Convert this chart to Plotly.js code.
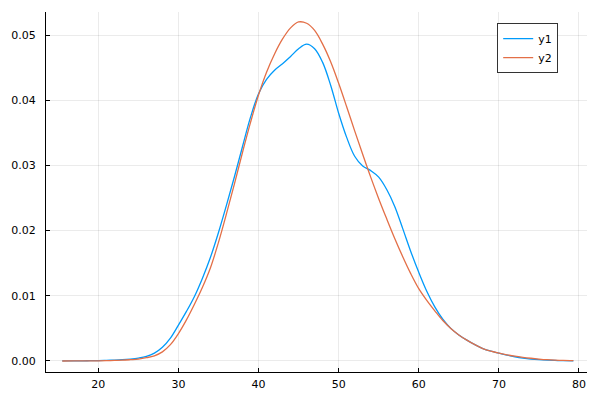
<!DOCTYPE html>
<html>
<head>
<meta charset="utf-8">
<script src="https://cdn.plot.ly/plotly-3.0.1.min.js"></script>
<style>html,body{margin:0;padding:0;background:#fff;}#chart{width:600px;height:400px;}</style>
</head>
<body>
<div id="chart"></div>
<script>
// Shared x grid for both density curves
var xs = [15.5, 17, 18, 19, 20, 21, 22, 23, 24, 25, 26, 27, 28, 29, 30, 31, 32, 33, 34, 35, 36, 37, 38, 39, 40, 41, 42, 43, 44, 45, 46, 47, 48, 49, 50, 51, 52, 53, 54, 55, 56, 57, 58, 59, 60, 61, 62, 63, 64, 65, 66, 67, 68, 69, 70, 71, 72, 73, 74, 75, 76, 77, 78, 79.3];
// Series y1 (blue)
var y1 = [0.00001, 0.00001, 0.00002, 0.00004, 0.00006, 0.0001, 0.00014, 0.0002, 0.0003, 0.00045, 0.0007, 0.0012, 0.0021, 0.0035, 0.0055, 0.0076, 0.0099, 0.0127, 0.0159, 0.0197, 0.0239, 0.0283, 0.0329, 0.0374, 0.0410, 0.0432, 0.0446, 0.0456, 0.0467, 0.0479, 0.0486, 0.0479, 0.0458, 0.0423, 0.0380, 0.0343, 0.0314, 0.0299, 0.0292, 0.0282, 0.0263, 0.0237, 0.0203, 0.0168, 0.0136, 0.0107, 0.0083, 0.0064, 0.0050, 0.0040, 0.0032, 0.0025, 0.0019, 0.0015, 0.0012, 0.0009, 0.00065, 0.00045, 0.0003, 0.0002, 0.00013, 0.00008, 0.00005, 0.00002];
// Series y2 (orange)
var y2 = [0.0, 0.000005, 0.00001, 0.00002, 0.00003, 0.00005, 0.00008, 0.00012, 0.0002, 0.0003, 0.0005, 0.0008, 0.0014, 0.0025, 0.0042, 0.0063, 0.0087, 0.0113, 0.0143, 0.0182, 0.0226, 0.0272, 0.0320, 0.0366, 0.0408, 0.0443, 0.0471, 0.0494, 0.0511, 0.0520, 0.0518, 0.0507, 0.0486, 0.0459, 0.0426, 0.0390, 0.0353, 0.0317, 0.0282, 0.0249, 0.0218, 0.0188, 0.0160, 0.0134, 0.0111, 0.0093, 0.0077, 0.0062, 0.0050, 0.0040, 0.0032, 0.0025, 0.0019, 0.0015, 0.0012, 0.00095, 0.00073, 0.00056, 0.00042, 0.0003, 0.0002, 0.00013, 0.00008, 0.00004];
var seriesNames = ["y1", "y2"];
var xTicks = [20, 30, 40, 50, 60, 70, 80];
var yTicks = [0, 0.01, 0.02, 0.03, 0.04, 0.05];
var yTickText = ["0.00", "0.01", "0.02", "0.03", "0.04", "0.05"];

var font = {family: "DejaVu Sans, sans-serif", size: 11, color: "#000"};
var traces = [
  {x: xs, y: y1, name: seriesNames[0], mode: "lines", line: {color: "#009AFA", width: 1.3, shape: "spline", smoothing: 1}},
  {x: xs, y: y2, name: seriesNames[1], mode: "lines", line: {color: "#E36F47", width: 1.3, shape: "spline", smoothing: 1}}
];
var axisCommon = {
  showline: true, linecolor: "#000", linewidth: 1, mirror: false,
  showgrid: true, gridcolor: "rgba(0,0,0,0.08)", gridwidth: 1,
  zeroline: false, ticks: "inside", ticklen: 4, tickcolor: "#000", tickwidth: 1,
  tickfont: font
};
var layout = {
  width: 600, height: 400,
  margin: {l: 46, r: 13, t: 12, b: 28},
  paper_bgcolor: "#fff", plot_bgcolor: "#fff",
  font: font,
  showlegend: true,
  xaxis: Object.assign({}, axisCommon, {range: [13.47, 81.0], tickvals: xTicks, ticklabelstandoff: 2}),
  yaxis: Object.assign({}, axisCommon, {range: [-0.00169, 0.05353], tickvals: yTicks, ticktext: yTickText, ticklabelstandoff: 7}),
  legend: {x: 0.834, y: 0.969, xanchor: "left", yanchor: "top", bgcolor: "#fff",
           bordercolor: "#333", borderwidth: 1, font: font, itemwidth: 30, tracegroupgap: 0}
};
Plotly.newPlot("chart", traces, layout, {displayModeBar: false, staticPlot: true});
</script>
</body>
</html>
